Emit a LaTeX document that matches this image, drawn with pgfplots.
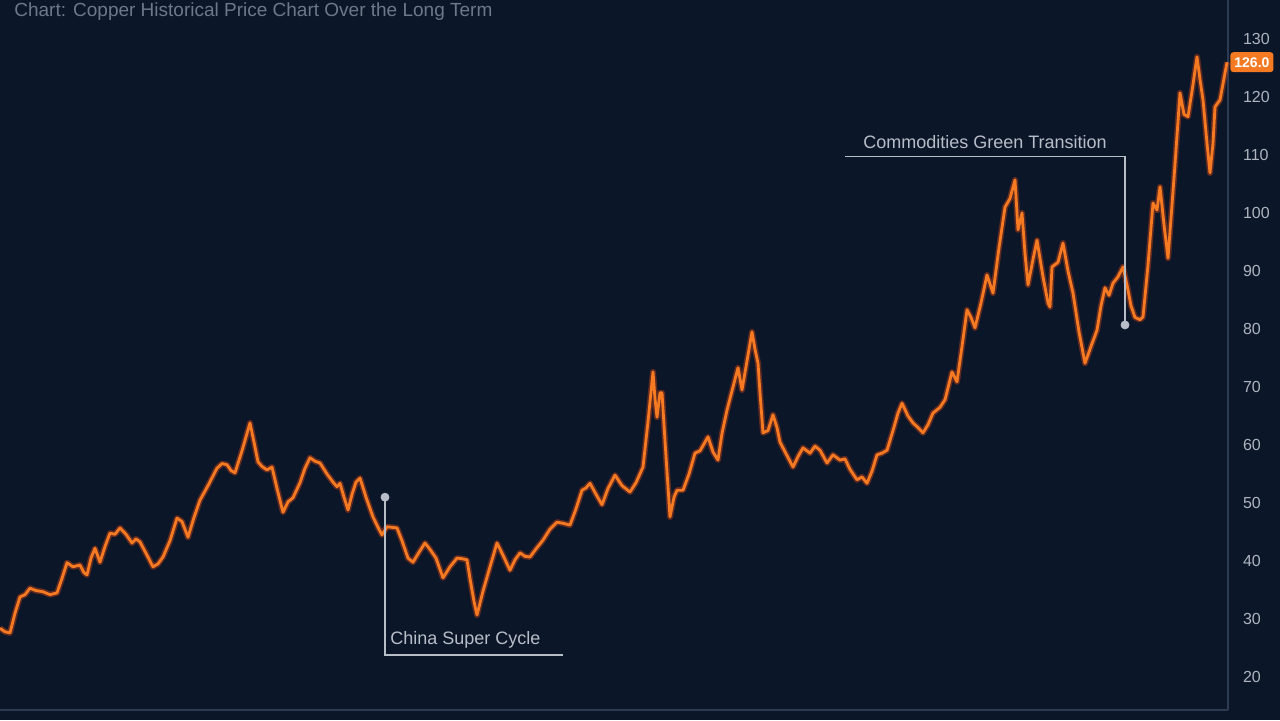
\documentclass[border=0pt]{standalone}
\usepackage{pgfplots}
\pgfplotsset{compat=1.18}
\usepackage{fontspec}
\setmainfont{Liberation Sans}
\definecolor{bgcol}{HTML}{0B1628}
\definecolor{axcol}{HTML}{2C3A52}
\definecolor{tickcol}{HTML}{AEB4BE}
\definecolor{linecol}{HTML}{F57A22}
\definecolor{glowcol}{HTML}{C8441A}
\definecolor{anncol}{HTML}{B8BEC8}
\definecolor{titlecol}{HTML}{6E7888}
\pgfplotstableread{
x y
0 28.4
5 27.8
10 27.6
15 31.0
20 33.8
25 34.2
30 35.3
36 34.9
43 34.7
50 34.2
57 34.5
62 37.0
67 39.7
73 39.0
80 39.3
84 38.0
87 37.6
91 40.5
95 42.2
100 39.8
105 42.5
110 44.8
115 44.6
120 45.7
126 44.6
132 43.1
136 43.8
140 43.3
147 41.0
153 39.0
158 39.5
163 40.7
170 43.5
177 47.4
182 46.8
188 44.1
194 47.5
200 50.5
208 53.0
217 56.0
222 56.8
227 56.6
231 55.6
235 55.2
242 59.0
250 63.8
254 60.5
258 57.1
262 56.3
267 55.7
272 56.2
277 52.5
283 48.4
288 50.2
293 50.9
300 53.5
305 56.0
310 57.8
315 57.2
320 56.9
327 55.0
333 53.6
337 52.8
340 53.4
344 51.0
348 48.8
352 51.5
356 53.6
360 54.3
366 51.0
373 47.6
378 45.8
382 44.5
387 45.9
392 45.8
397 45.7
402 43.5
408 40.5
413 39.8
419 41.5
425 43.1
430 42.0
436 40.5
443 37.1
450 39.0
457 40.5
462 40.4
467 40.2
470 37.0
474 33.0
477 30.7
483 34.8
490 39.0
497 43.1
503 41.0
510 38.4
515 40.2
520 41.4
525 40.8
530 40.7
537 42.3
543 43.6
550 45.5
557 46.7
563 46.5
570 46.2
576 49.0
582 52.2
586 52.6
590 53.4
596 51.5
602 49.7
608 52.5
615 54.8
622 53.0
630 51.9
636 53.5
643 56.2
648 64.0
653 72.6
655 68.0
657 64.8
660 69.0
662 69.0
666 58.0
670 47.6
674 51.0
677 52.2
683 52.2
689 55.0
695 58.6
700 59.0
708 61.4
713 58.8
718 57.4
722 62.0
727 66.0
733 70.0
738 73.3
742 69.5
747 74.5
752 79.5
755 76.5
758 74.1
760 69.0
763 62.1
768 62.5
773 65.2
777 63.0
780 60.5
786 58.5
793 56.2
798 58.0
803 59.5
810 58.6
815 59.8
820 59.1
827 56.9
833 58.3
840 57.4
845 57.6
850 55.8
857 54.0
862 54.5
867 53.4
872 55.5
877 58.3
882 58.6
887 59.1
893 62.5
898 65.5
902 67.2
908 65.0
913 63.8
918 63.0
923 62.1
928 63.5
933 65.5
940 66.5
945 67.8
952 72.6
957 70.9
962 77.0
967 83.3
971 82.0
975 80.2
981 84.5
987 89.3
993 86.2
999 94.0
1005 101.0
1010 102.5
1015 105.7
1018 97.1
1022 100.0
1025 93.0
1028 87.6
1033 92.0
1037 95.3
1043 89.0
1048 84.5
1050 83.8
1052 90.7
1058 91.5
1063 94.8
1068 90.0
1073 86.2
1079 79.5
1085 74.1
1091 77.0
1097 79.8
1101 84.0
1105 87.1
1109 85.8
1113 87.9
1118 89.0
1123 90.7
1127 87.6
1131 84.0
1135 82.0
1140 81.6
1143 82.1
1148 91.0
1153 101.7
1157 100.5
1160 104.5
1164 98.0
1168 92.2
1174 106.0
1180 120.7
1184 117.0
1188 116.6
1192 121.0
1197 126.9
1200 123.0
1203 119.5
1207 112.0
1210 106.9
1213 112.0
1215 118.3
1220 119.5
1227 126.0
}\pricedata
\begin{document}
\begin{tikzpicture}
\useasboundingbox (0,0) rectangle (640pt,360pt);
\fill[bgcol] (0,0) rectangle (640pt,360pt);
\node[anchor=north west, text=titlecol, font=\fontsize{9.5}{11}\selectfont, inner sep=0pt] at (7pt,359pt) {Chart: Copper Historical Price Chart Over the Long Term};
\begin{axis}[
  at={(0pt,5pt)}, anchor=south west,
  scale only axis, width=614pt, height=355pt,
  xmin=0, xmax=1228, ymin=14.31, ymax=136.72,
  axis x line*=bottom, axis y line*=right,
  axis line style={axcol, line width=0.8pt, -},
  xtick=\empty,
  ytick={20,30,...,130},
  yticklabel pos=right,
  major tick length=0pt,
  yticklabel style={text=tickcol, font=\fontsize{8}{9}\selectfont, xshift=4pt},
  /pgf/number format/assume math mode=true,
  clip=false,
]
\addplot[glowcol, opacity=0.45, line width=3pt, line join=round, forget plot] table {\pricedata};
\addplot[linecol, line width=1.4pt, line join=round] table {\pricedata};
% annotations
\draw[anncol, line width=0.6pt] (axis cs:385,51.0) -- (axis cs:385,23.8) -- (axis cs:563,23.8);
\node[anchor=south west, text=anncol, font=\fontsize{9}{10}\selectfont, inner sep=1pt] at (axis cs:388,24.6) {China Super Cycle};
\draw[anncol, line width=0.6pt] (axis cs:845,109.8) -- (axis cs:1125,109.8) -- (axis cs:1125,80.7);
\node[anchor=south, text=anncol, font=\fontsize{9}{10}\selectfont, inner sep=1pt] at (axis cs:985,110.6) {Commodities Green Transition};
\addplot[only marks, mark=*, mark size=2pt, anncol] coordinates {(385,51.0) (1125,80.7)};
% last value tag
\node[fill=linecol, text=white, rounded corners=1.5pt, font=\fontsize{7}{8}\selectfont\bfseries, inner xsep=2pt, inner ysep=2.5pt, anchor=west] at (axis cs:1230,126.0) {126.0};
\end{axis}
\end{tikzpicture}
\end{document}
